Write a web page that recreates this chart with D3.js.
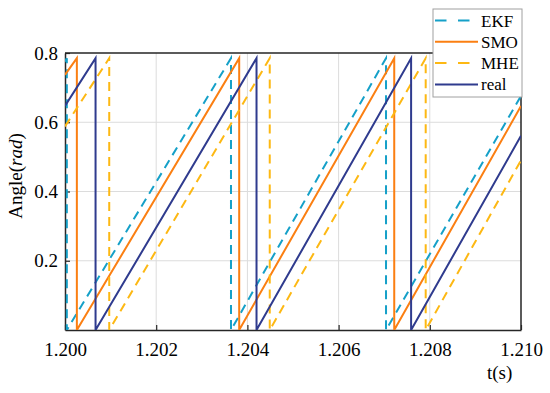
<!DOCTYPE html>
<html lang="en">
<head>
<meta charset="utf-8">
<title>Angle</title>
<style>
  body { margin: 0; background: #fff; }
  svg text { font-family: "Liberation Serif", "Times New Roman", serif; fill: #000; }
  .grid line { stroke: #dcdcdc; stroke-width: 1; }
</style>
</head>
<body>
<svg id="chart" width="550" height="393"></svg>
<script src="https://cdn.jsdelivr.net/npm/d3@7"></script>
<script>
// series: breakpoints of each sawtooth (time, angle)
var ekfT  = [1.2000, 1.20004, 1.20004, 1.20364, 1.20364, 1.20704, 1.20704, 1.2100];
var ekfV  = [0.775, 0.785, 0, 0.785, 0, 0.785, 0, 0.676];
var smoT  = [1.2000, 1.20026, 1.20026, 1.20382, 1.20382, 1.20722, 1.20722, 1.2100];
var smoV  = [0.737, 0.785, 0, 0.785, 0, 0.785, 0, 0.647];
var mheT  = [1.2000, 1.20097, 1.20097, 1.20449, 1.20449, 1.20791, 1.20791, 1.2100];
var mheV  = [0.588, 0.785, 0, 0.785, 0, 0.785, 0, 0.490];
var realT = [1.2000, 1.20067, 1.20067, 1.20420, 1.20420, 1.20759, 1.20759, 1.2100];
var realV = [0.647, 0.785, 0, 0.785, 0, 0.785, 0, 0.561];

var xTicks = [1.200, 1.202, 1.204, 1.206, 1.208, 1.210];
var yTicks = [0.2, 0.4, 0.6, 0.8];
var names  = ['EKF', 'SMO', 'MHE', 'real'];

var svg = d3.select('#chart'),
    pLeft = 65, pRight = 521, pTop = 53, pBottom = 330;

var x = d3.scaleLinear().domain([1.200, 1.210]).range([pLeft, pRight]);
var y = d3.scaleLinear().domain([0, 0.8]).range([pBottom, pTop]);

// grid
var grid = svg.append('g').attr('class', 'grid');
grid.selectAll('line.gx').data(xTicks.slice(1, -1)).enter().append('line')
    .attr('class', 'gx')
    .attr('x1', d => x(d)).attr('x2', d => x(d))
    .attr('y1', pTop).attr('y2', pBottom);
grid.selectAll('line.gy').data(yTicks.slice(0, -1)).enter().append('line')
    .attr('class', 'gy')
    .attr('x1', pLeft).attr('x2', pRight)
    .attr('y1', d => y(d)).attr('y2', d => y(d));

// axes
var xAxis = svg.append('g')
    .attr('transform', 'translate(0,' + pBottom + ')')
    .call(d3.axisBottom(x).tickValues(xTicks).tickFormat(d3.format('.3f'))
        .tickSizeInner(-5).tickSizeOuter(0).tickPadding(12));
var yAxis = svg.append('g')
    .attr('transform', 'translate(' + pLeft + ',0)')
    .call(d3.axisLeft(y).tickValues(yTicks).tickFormat(d3.format('.1f'))
        .tickSizeInner(-5).tickSizeOuter(0).tickPadding(7));
[xAxis, yAxis].forEach(function(a) {
    a.attr('font-family', null).attr('font-size', null);
    a.select('.domain').attr('stroke', '#262626').attr('stroke-width', 1.5);
    a.selectAll('.tick line').attr('stroke', '#262626').attr('stroke-width', 1.2);
    a.selectAll('.tick text')
        .attr('font-family', '"Liberation Serif", "Times New Roman", serif')
        .attr('font-size', 19).attr('fill', '#000');
});
xAxis.selectAll('.tick text').attr('dy', '0.72em');
// box: top and right
svg.append('path')
    .attr('d', 'M' + pLeft + ',' + pTop + 'H' + pRight + 'V' + pBottom)
    .attr('fill', 'none').attr('stroke', '#262626').attr('stroke-width', 1.5);

// axis labels
var yl = svg.append('text')
    .attr('transform', 'translate(22,176) rotate(-90)')
    .attr('text-anchor', 'middle').attr('font-size', 19);
yl.append('tspan').text('Angle(');
yl.append('tspan').attr('font-style', 'italic').text('rad');
yl.append('tspan').text(')');
svg.append('text').attr('x', 487).attr('y', 379).attr('font-size', 19).text('t(s)');

// lines
svg.append('clipPath').attr('id', 'clip').append('rect')
    .attr('x', pLeft).attr('y', pTop - 6).attr('width', pRight - pLeft).attr('height', pBottom - pTop + 6);

var series = [
    {t: ekfT,  v: ekfV,  color: '#15a0c8', dash: '9,6'},
    {t: smoT,  v: smoV,  color: '#fb7f12', dash: null},
    {t: mheT,  v: mheV,  color: '#fdb813', dash: '9,6'},
    {t: realT, v: realV, color: '#2f3b8e', dash: null}
];
var line = d3.line().x(d => x(d[0])).y(d => y(d[1]));

svg.append('g').attr('clip-path', 'url(#clip)')
    .selectAll('path').data(series).enter().append('path')
    .attr('d', s => line(d3.zip(s.t, s.v)))
    .attr('fill', 'none')
    .attr('stroke', s => s.color)
    .attr('stroke-width', 2)
    .attr('stroke-dasharray', s => s.dash);

// legend
var lg = svg.append('g');
lg.append('rect').attr('x', 433).attr('y', 9).attr('width', 89).attr('height', 88)
    .attr('fill', '#fff').attr('stroke', '#a0a0a0').attr('stroke-width', 1);
series.forEach(function(s, i) {
    var ly = 20.5 + i * 21.3;
    lg.append('line').attr('x1', 435).attr('x2', 478).attr('y1', ly).attr('y2', ly)
        .attr('stroke', s.color).attr('stroke-width', 2)
        .attr('stroke-dasharray', s.dash ? '11.5,11.5' : null);
    lg.append('text').attr('x', 481).attr('y', ly + 6).attr('font-size', 17).text(names[i]);
});
</script>
</body>
</html>
